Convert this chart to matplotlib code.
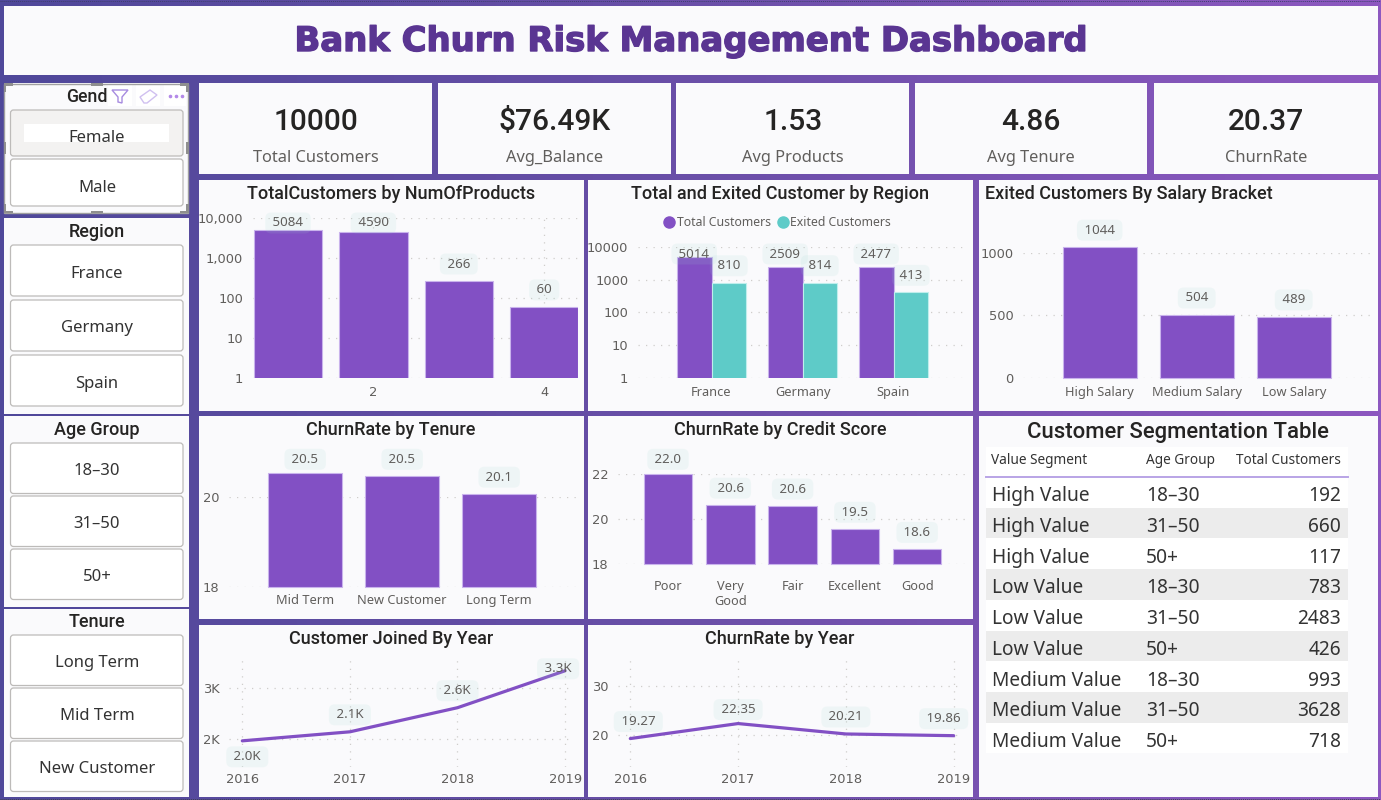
import numpy as np
import matplotlib
matplotlib.use("Agg")
import matplotlib.pyplot as plt
from matplotlib.colors import LinearSegmentedColormap
from matplotlib.lines import Line2D
from matplotlib.patches import FancyBboxPatch, Polygon, Rectangle
import matplotlib.patheffects as pe

W, H = 1381, 800

PURPLE = "#8250c4"
TEAL = "#5ecbc8"
EDGE = "#c9b3ec"
GREY = "#605e5c"
DARK = "#252423"
PANEL = "#fafafc"
DIN = "Roboto"
SEGOE = "Noto Sans"

kpi_values = ["10000", "$76.49K", "1.53", "4.86", "20.37"]
kpi_names = ["Total Customers", "Avg_Balance", "Avg Products", "Avg Tenure", "ChurnRate"]

products = [1, 2, 3, 4]
product_customers = [5084, 4590, 266, 60]

regions = ["France", "Germany", "Spain"]
region_total = [5014, 2509, 2477]
region_exited = [810, 814, 413]

salary_brackets = ["High Salary", "Medium Salary", "Low Salary"]
salary_exited = [1044, 504, 489]

tenure_groups = ["Mid Term", "New Customer", "Long Term"]
tenure_churn = [20.54, 20.48, 20.07]

credit_groups = ["Poor", "Very\nGood", "Fair", "Excellent", "Good"]
credit_churn = [22.03, 20.62, 20.58, 19.54, 18.64]

years = [2016, 2017, 2018, 2019]
joined = [1964, 2140, 2610, 3330]
year_churn = [19.27, 22.35, 20.21, 19.86]

table_header = ["Value Segment", "Age Group", "Total Customers"]
table_segment = ["High Value"] * 3 + ["Low Value"] * 3 + ["Medium Value"] * 3
table_age = ["18–30", "31–50", "50+"] * 3
table_customers = [192, 660, 117, 783, 2483, 426, 993, 3628, 718]

slicers = {
    "Region": ["France", "Germany", "Spain"],
    "Age Group": ["18–30", "31–50", "50+"],
    "Tenure": ["Long Term", "Mid Term", "New Customer"],
}

fig = plt.figure(figsize=(W / 100, H / 100), dpi=100)

# canvas in pixel coordinates, y pointing down
bg = fig.add_axes([0, 0, 1, 1])
cmap = LinearSegmentedColormap.from_list("back", ["#4f489a", "#6a4fa8", "#8d58c0"])
bg.imshow(np.linspace(0, 1, 256).reshape(1, -1), cmap=cmap, extent=(0, W, H, 0), aspect="auto", zorder=0)
bg.set_xlim(0, W)
bg.set_ylim(H, 0)
bg.axis("off")


def panel(x0, y0, x1, y1, color=PANEL):
    bg.add_patch(Rectangle((x0, y0), x1 - x0, y1 - y0, fc=color, ec="none", zorder=1))


def button(y0, y1, face="white"):
    bg.add_patch(FancyBboxPatch((10.5, y0), 172.5, y1 - y0, boxstyle="round,pad=0,rounding_size=3",
                                fc=face, ec="#bdbbb9", lw=0.9, zorder=2))


def label(x, y, s, size, color=DARK, font=DIN, **kw):
    return bg.text(x, y, s, fontsize=size, color=color, family=font, ha=kw.pop("ha", "center"),
                   va="center_baseline", zorder=5, **kw)


def chart_title(x, y, s, ha="center"):
    label(x, y, s, 13, ha=ha, fontweight="medium")


def chart_axes(x0, y0, x1, y1):
    ax = fig.add_axes([x0 / W, 1 - y1 / H, (x1 - x0) / W, (y1 - y0) / H])
    ax.patch.set_alpha(0)
    for s in ax.spines.values():
        s.set_visible(False)
    ax.tick_params(length=0, labelsize=9.4, labelcolor=GREY, pad=7)
    ax.tick_params(axis="x", pad=5.5)
    ax.set_axisbelow(True)
    return ax


def grid_lines(ax, axis="y"):
    ax.grid(True, axis=axis, color="#cfcdcb", lw=0.9, linestyle=(0, (1, 5)))


def band_xlim(ax, x0, x1, first, step):
    ax.set_xlim((x0 - first) / step, (x1 - first) / step)


def value_tag(ax, x, v, text, dx=0, dy=-17, ceil=None):
    # tag centre sits dy pixels from the mark, kept below the ceil row when one is given
    py = H - ax.transData.transform((x, v))[1]
    target = py + dy
    if ceil is not None:
        target = max(target, ceil)
    ax.annotate(f" {text} ", (x, v), xytext=(dx, py - target), textcoords="offset pixels", ha="center", va="center",
                fontsize=9.6, color=GREY, family=SEGOE, zorder=6, annotation_clip=False,
                bbox=dict(boxstyle="round,pad=0.3,rounding_size=0.45", fc=(0.62, 0.85, 0.82, 0.12), ec="none"))


def set_tick_font(ax, font=SEGOE, size=9.2):
    for t in ax.get_xticklabels():
        t.set_family(font)
        t.set_fontsize(size)


# page panels
panel(4, 6, 1378, 75)
panel(4, 83, 189, 213)
panel(4, 218, 189, 414)
panel(4, 416, 189, 607)
panel(4, 609, 189, 797)
for x0, x1 in [(199, 432), (438, 671), (676, 909), (915, 1147), (1154, 1378)]:
    panel(x0, 83, x1, 174)
panel(199, 180, 584, 411)
panel(588, 180, 973, 411)
panel(979, 180, 1378, 411)
panel(199, 416, 584, 619)
panel(588, 416, 973, 619)
panel(979, 416, 1378, 797)
panel(199, 625, 584, 797)
panel(588, 625, 973, 797)
# dotted strip along the canvas edges
bg.plot([0, W], [799.3, 799.3], color="#3f3f4f", lw=0.7, ls=(0, (1, 1)), zorder=1)
bg.plot([0, W], [0.7, 0.7], color="#3f3f6f", lw=0.7, ls=(0, (1, 1)), zorder=1)

label(691, 38, "Bank Churn Risk Management Dashboard", 24.4, color="#5a3592", font="DejaVu Sans",
      fontweight="bold", path_effects=[pe.withStroke(linewidth=1, foreground="#5a3592")])

# kpi cards
for (cx, value, name) in zip([316, 555, 793, 1031, 1266], kpi_values, kpi_names):
    label(cx, 119, value, 21.5, fontweight="medium")
    label(cx, 156, name, 11.8, color=GREY, font=SEGOE)

# slicers
label(87, 95, "Gend", 12.8, fontweight="medium")
button(110, 156, face="#f3f2f1")
bg.add_patch(Rectangle((24, 124), 145, 18, fc="white", ec="none", zorder=3))
label(97, 136, "Female", 12, color="#333333", font=SEGOE)
button(159, 206)
label(97, 186, "Male", 12, color="#333333", font=SEGOE)

slicer_rows = {"Region": (230, [245, 300, 355], 51), "Age Group": (428, [443, 496, 549], 50.5),
               "Tenure": (620, [635, 688, 741], 50.5)}
for title, items in slicers.items():
    title_y, tops, height = slicer_rows[title]
    label(97, title_y, title, 13, fontweight="medium")
    for top, item in zip(tops, items):
        button(top, top + height)
        label(97, top + height / 2 + 1, item, 12, color="#333333", font=SEGOE)

# visual header icons and selection handles on the gender slicer
for x0, x1 in [(108, 132), (136, 160), (164, 186)]:
    bg.add_patch(Rectangle((x0, 84), x1 - x0, 22, fc="white", ec="none", zorder=3))
bg.add_patch(Polygon([(112, 90), (128, 90), (122, 97), (122, 103), (118, 102), (118, 97)], closed=True,
                     fc="none", ec="#a78be0", lw=1, zorder=4))
bg.add_patch(Polygon([(140, 97), (150, 90), (157, 95), (147, 103), (144, 103)], closed=True,
                     fc="none", ec="#d0c0f0", lw=1, zorder=4))
bg.plot([170, 176, 182], [96, 96, 96], ls="none", marker="o", ms=1.6, color="#b48ae8", zorder=4)
bg.add_patch(Rectangle((4.5, 83.5), 184, 129, fc="none", ec="#a0a0a0", lw=1, zorder=4))
for x, y, w, h in [(4, 83, 9, 2.5), (4, 83, 2.5, 9), (180, 83, 9, 2.5), (186.5, 83, 2.5, 9),
                   (4, 210.5, 9, 2.5), (4, 204, 2.5, 9), (180, 210.5, 9, 2.5), (186.5, 204, 2.5, 9),
                   (91, 83, 12, 2.5), (91, 210.5, 12, 2.5), (4, 142, 2.5, 12), (186.5, 142, 2.5, 12)]:
    bg.add_patch(Rectangle((x, y), w, h, fc="#8f8f8f", ec="none", zorder=5))

# TotalCustomers by NumOfProducts
chart_title(391, 192, "TotalCustomers by NumOfProducts")
ax = chart_axes(253, 218, 578, 378)
ax.set_yscale("log")
band_xlim(ax, 253, 578, 288 - 85.4, 85.4)
ax.set_ylim(1, 10000)
ax.bar(products, product_customers, width=0.8, color=PURPLE, edgecolor=EDGE, lw=0.8)
ax.set_yticks([1, 10, 100, 1000, 10000], ["1", "10", "100", "1,000", "10,000"])
ax.minorticks_off()
ax.set_xticks([2, 4], ["2", "4"])
grid_lines(ax, "both")
for x, v in zip(products, product_customers):
    value_tag(ax, x, v, str(v), ceil=223)

# Total and Exited Customer by Region
chart_title(780, 192, "Total and Exited Customer by Region")
ax = chart_axes(638, 247, 967, 378)
ax.set_yscale("log")
band_xlim(ax, 638, 967, 711.5, 91)
ax.set_ylim(1, 10000)
xs = np.arange(len(regions))
ax.bar(xs - 0.19, region_total, width=0.38, color=PURPLE, edgecolor=EDGE, lw=0.8)
ax.bar(xs + 0.19, region_exited, width=0.38, color=TEAL, edgecolor="#bfeeec", lw=0.8)
ax.set_yticks([1, 10, 100, 1000, 10000], ["1", "10", "100", "1000", "10000"])
ax.minorticks_off()
ax.set_xticks(xs, regions)
set_tick_font(ax)
grid_lines(ax)
for i in xs:
    value_tag(ax, i - 0.19, region_total[i], str(region_total[i]), ceil=254)
    value_tag(ax, i + 0.19, region_exited[i], str(region_exited[i]))
handles = [Line2D([], [], ls="none", marker="o", ms=8, color=PURPLE, label="Total Customers"),
           Line2D([], [], ls="none", marker="o", ms=8, color=TEAL, label="Exited Customers")]
bg.legend(handles=handles, loc="center", bbox_to_anchor=(777, 222.7), bbox_transform=bg.transData, ncol=2,
          frameon=False, prop={"family": SEGOE, "size": 8.8}, labelcolor=GREY, handletextpad=0.1,
          columnspacing=0.5, borderpad=0, handlelength=1.0)

# Exited Customers By Salary Bracket
chart_title(985, 192, "Exited Customers By Salary Bracket", ha="left")
ax = chart_axes(1023, 252.7, 1371, 378.3)
band_xlim(ax, 1023, 1371, 1099.7, 97)
ax.set_ylim(0, 1000)
xs = np.arange(len(salary_brackets))
ax.bar(xs, salary_exited, width=0.76, color=PURPLE, edgecolor=EDGE, lw=0.8, clip_on=False)
ax.set_yticks([0, 500, 1000])
ax.set_xticks(xs, salary_brackets)
set_tick_font(ax)
grid_lines(ax)
for i in xs:
    value_tag(ax, i, salary_exited[i], str(salary_exited[i]))

# ChurnRate by Tenure, axis starts at 18
chart_title(391, 428, "ChurnRate by Tenure")
ax = chart_axes(229, 497.3, 578, 586.7)
band_xlim(ax, 229, 578, 305.2, 97)
ax.set_ylim(18, 20)
xs = np.arange(len(tenure_groups))
ax.bar(xs, np.array(tenure_churn) - 18, bottom=18, width=0.76, color=PURPLE, edgecolor=EDGE, lw=0.8, clip_on=False)
ax.set_yticks([18, 20])
ax.set_xticks(xs, tenure_groups)
set_tick_font(ax)
grid_lines(ax)
for i in xs:
    value_tag(ax, i, tenure_churn[i], f"{tenure_churn[i]:.1f}", ceil=459.3)

# ChurnRate by Credit Score, axis starts at 18
chart_title(780, 428, "ChurnRate by Credit Score")
ax = chart_axes(618, 474.3, 967, 563.7)
band_xlim(ax, 618, 967, 668, 62.3)
ax.set_ylim(18, 22)
xs = np.arange(len(credit_groups))
ax.bar(xs, np.array(credit_churn) - 18, bottom=18, width=0.78, color=PURPLE, edgecolor=EDGE, lw=0.8, clip_on=False)
ax.set_yticks([18, 20, 22])
ax.set_xticks(xs, credit_groups, linespacing=1.25)
ax.tick_params(axis="x", pad=11.5)
set_tick_font(ax)
grid_lines(ax)
for i in xs:
    value_tag(ax, i, credit_churn[i], f"{credit_churn[i]:.1f}", ceil=459.3)

# Customer Joined By Year
chart_title(391, 637, "Customer Joined By Year")
ax = chart_axes(229, 660, 573, 767)
ax.set_xlim(2016 + (229 - 242.3) / 107.6, 2016 + (573 - 242.3) / 107.6)
ax.set_ylim(1454, 3540)
ax.plot(years, joined, color=PURPLE, lw=2.3, solid_capstyle="round")
ax.set_yticks([2000, 3000], ["2K", "3K"])
ax.set_xticks(years, [str(y) for y in years])
ax.tick_params(axis="x", pad=4)
grid_lines(ax, "both")
for y, v, (dx, dy) in zip(years, joined, [(5, 16), (0, -17), (0, -17), (-7, -2)]):
    value_tag(ax, y, v, f"{v / 1000:.1f}K", dx=dx, dy=dy)

# ChurnRate by Year
chart_title(780, 637, "ChurnRate by Year")
ax = chart_axes(618, 660, 962, 767)
ax.set_xlim(2016 + (618 - 630.3) / 107.8, 2016 + (962 - 630.3) / 107.8)
ax.set_ylim(13.43, 35.4)
ax.plot(years, year_churn, color=PURPLE, lw=2.3, solid_capstyle="round")
ax.set_yticks([20, 30])
ax.set_xticks(years, [str(y) for y in years])
ax.tick_params(axis="x", pad=4)
grid_lines(ax, "both")
for y, v, (dx, dy) in zip(years, year_churn, [(8, -17), (0, -14), (0, -17), (-10, -17)]):
    value_tag(ax, y, v, f"{v:.2f}", dx=dx, dy=dy)

# Customer Segmentation Table
label(1178, 430, "Customer Segmentation Table", 15.9, fontweight="medium")
panel(986, 447, 1348, 477, color="white")
label(991, 458, table_header[0], 9.8, color="#333333", font=SEGOE, ha="left")
label(1146, 458, table_header[1], 9.8, color="#333333", font=SEGOE, ha="left")
label(1341, 458, table_header[2], 9.8, color="#333333", font=SEGOE, ha="right")
row_h = (753.3 - 477) / len(table_segment)
for i, (seg, age, n) in enumerate(zip(table_segment, table_age, table_customers)):
    top = 477 + i * row_h
    panel(986, top, 1348, top + row_h, color="#ececec" if i % 2 else "white")
    cy = top + row_h / 2 + 1.5
    label(992, cy, seg, 13.8, color="#333333", font=SEGOE, ha="left")
    label(1146, cy, age, 13.8, color="#333333", font=SEGOE, ha="left")
    label(1341, cy, str(n), 13.8, color="#333333", font=SEGOE, ha="right")
bg.plot([986, 1348], [477, 477], color="#b9a4e6", lw=1.4, zorder=4)

fig.savefig("out.png", dpi=100)
